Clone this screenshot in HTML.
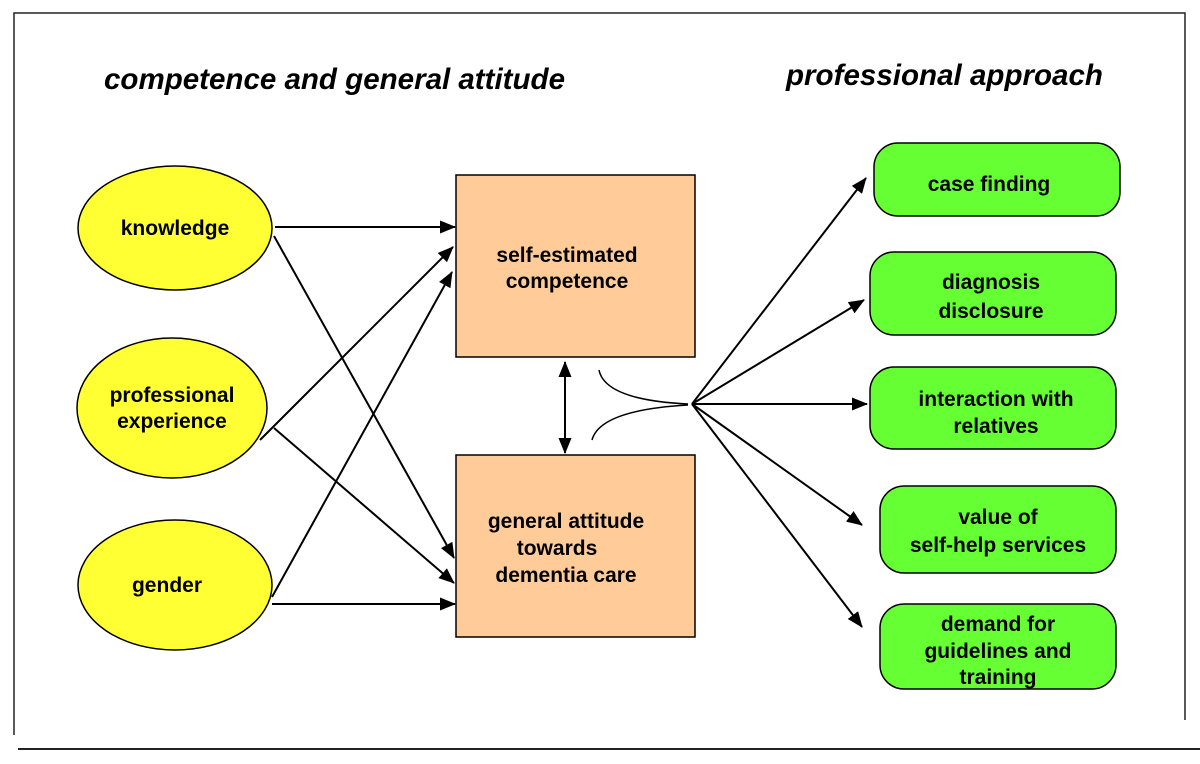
<!DOCTYPE html>
<html><head><meta charset="utf-8"><style>body{margin:0;background:#fff}svg{display:block}</style></head><body>
<svg width="1200" height="764" viewBox="0 0 1200 764" xmlns="http://www.w3.org/2000/svg" font-family="Liberation Sans, sans-serif">
<defs><marker id="a" markerWidth="16" markerHeight="13" refX="15" refY="6.5" orient="auto" markerUnits="userSpaceOnUse" viewBox="0 0 16 13"><path d="M0,0 L16,6.5 L0,13 z" fill="#000"/></marker>
<marker id="b" markerWidth="16" markerHeight="13" refX="15" refY="6.5" orient="auto-start-reverse" markerUnits="userSpaceOnUse" viewBox="0 0 16 13"><path d="M0,0 L16,6.5 L0,13 z" fill="#000"/></marker></defs>
<path d="M14,735 L14,13 L1185,13 L1185,720" fill="none" stroke="#222" stroke-width="1.5"/>
<line x1="18" y1="749" x2="1200" y2="749" stroke="#222" stroke-width="2"/>
<text x="104" y="89" font-size="29.5" font-weight="bold" font-style="italic" textLength="461" lengthAdjust="spacingAndGlyphs">competence and general attitude</text>
<text x="786" y="85" font-size="29.5" font-weight="bold" font-style="italic" textLength="317" lengthAdjust="spacingAndGlyphs">professional approach</text>
<g fill="#ffff33" stroke="#000" stroke-width="1.5">
<ellipse cx="175" cy="228" rx="97" ry="62"/><ellipse cx="172" cy="408" rx="95" ry="70"/><ellipse cx="175" cy="585" rx="97" ry="65"/></g>
<g fill="#ffcc99" stroke="#000" stroke-width="1.5"><rect x="456" y="175" width="239" height="182"/><rect x="456" y="455" width="239" height="182"/></g>
<g fill="#66ff33" stroke="#000" stroke-width="1.5">
<rect x="874" y="143" width="246" height="73" rx="24"/><rect x="870" y="252" width="246" height="83" rx="24"/><rect x="870" y="367" width="246" height="82" rx="24"/><rect x="880" y="486" width="236" height="87" rx="24"/><rect x="880" y="604" width="236" height="85" rx="24"/></g>
<g stroke="#000" stroke-width="2" fill="none" marker-end="url(#a)">
<line x1="275" y1="227" x2="455" y2="227"/><line x1="274" y1="236" x2="454" y2="558"/>
<line x1="260" y1="440" x2="453" y2="247"/><line x1="274" y1="428" x2="454" y2="583"/>
<line x1="272" y1="604" x2="455" y2="604"/><line x1="272" y1="597" x2="452" y2="272"/>
<line x1="692" y1="404" x2="866" y2="178"/><line x1="692" y1="404" x2="864" y2="300"/><line x1="692" y1="404" x2="867" y2="404"/><line x1="692" y1="404" x2="862" y2="525"/><line x1="692" y1="404" x2="862" y2="627"/>
</g>
<line x1="565" y1="362" x2="565" y2="453" stroke="#000" stroke-width="2" marker-start="url(#b)" marker-end="url(#b)"/>
<path d="M599,370 Q605,400 688,404 M592,440 Q600,410 688,405" fill="none" stroke="#000" stroke-width="1.5"/>
<g font-size="21" font-weight="bold" text-anchor="middle">
<text x="175" y="235">knowledge</text>
<text x="172" y="402">professional</text><text x="172" y="428">experience</text>
<text x="167" y="592">gender</text>
<text x="567" y="262">self-estimated</text><text x="567" y="288">competence</text>
<text x="566" y="528">general attitude</text><text x="557" y="555">towards</text><text x="566" y="582">dementia care</text>
<text x="989" y="191">case finding</text>
<text x="991" y="289">diagnosis</text><text x="991" y="318">disclosure</text>
<text x="996" y="406">interaction with</text><text x="996" y="433">relatives</text>
<text x="998" y="524">value of</text><text x="998" y="552">self-help services</text>
<text x="998" y="631">demand for</text><text x="998" y="658">guidelines and</text><text x="998" y="684">training</text>
</g>
</svg>
</body></html>
